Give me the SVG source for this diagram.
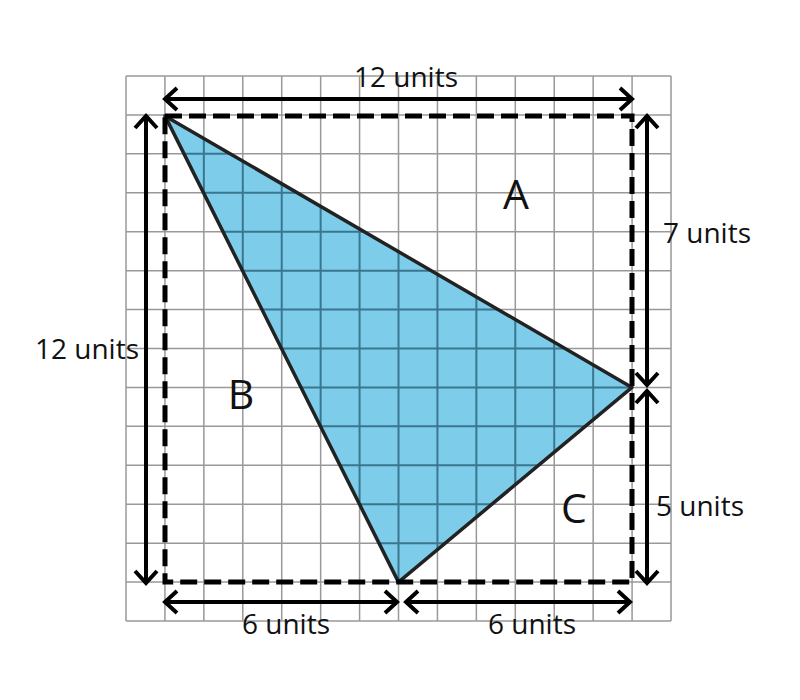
<svg xmlns="http://www.w3.org/2000/svg" width="800" height="700" viewBox="0 0 800 700">
<style>
.lbl{font-family:"Open Sans","Liberation Sans",sans-serif;font-size:28px;fill:#111;text-anchor:middle}
.reg{font-family:"Open Sans","Liberation Sans",sans-serif;font-size:41px;fill:#111;text-anchor:middle}
.arr{stroke:#000;stroke-width:4;fill:none;marker-start:url(#ah);marker-end:url(#ah)}
</style>
<defs>
<marker id="ah" markerUnits="userSpaceOnUse" viewBox="-16 -16 32 32" markerWidth="32" markerHeight="32" refX="0" refY="0" orient="auto-start-reverse">
<path d="M-12,-11 L0,0 L-12,11" fill="none" stroke="#000" stroke-width="4"/>
</marker>
<path id="grid" fill="none" d="M126,76V621M164.93,76V621M203.86,76V621M242.79,76V621M281.72,76V621M320.65,76V621M359.58,76V621M398.51,76V621M437.44,76V621M476.37,76V621M515.3,76V621M554.23,76V621M593.16,76V621M632.09,76V621M671.02,76V621M126,76H671M126,114.93H671M126,153.86H671M126,192.79H671M126,231.72H671M126,270.65H671M126,309.58H671M126,348.51H671M126,387.44H671M126,426.37H671M126,465.3H671M126,504.23H671M126,543.16H671M126,582.09H671M126,621.02H671"/>
<clipPath id="tri"><polygon points="165,115.9 632,387.4 398.5,582.1"/></clipPath>
</defs>
<g id="grid-bg">
<use href="#grid" stroke="#999" stroke-width="1.5"/>
</g>
<g id="triangle">
<polygon points="165,115.9 632,387.4 398.5,582.1" fill="#7DCDEA"/>
<use href="#grid" stroke="#3B7690" stroke-width="2" clip-path="url(#tri)"/>
<polygon points="165,115.9 632,387.4 398.5,582.1" fill="none" stroke="#222" stroke-width="3.5" stroke-linejoin="round"/>
</g>
<g id="square">
<rect x="165" y="115.9" width="467" height="466.2" fill="none" stroke="#000" stroke-width="5" stroke-dasharray="17 7"/>
</g>
<g id="connectors">
<line class="arr" x1="165" y1="99" x2="632" y2="99"/>
<line class="arr" x1="146" y1="116" x2="146" y2="583"/>
<line class="arr" x1="647" y1="116" x2="647" y2="385"/>
<line class="arr" x1="647" y1="391" x2="647" y2="583"/>
<line class="arr" x1="165" y1="602" x2="397" y2="602"/>
<line class="arr" x1="406" y1="602" x2="630" y2="602"/>
</g>
<g id="labels">
<text class="lbl" x="406" y="87">12 units</text>
<text class="lbl" x="87" y="359">12 units</text>
<text class="lbl" x="707" y="243">7 units</text>
<text class="lbl" x="700" y="516">5 units</text>
<text class="lbl" x="286" y="634">6 units</text>
<text class="lbl" x="532" y="634">6 units</text>
<text class="reg" x="516" y="209">A</text>
<text class="reg" x="241" y="409">B</text>
<text class="reg" x="574" y="523">C</text>
</g>
</svg>
